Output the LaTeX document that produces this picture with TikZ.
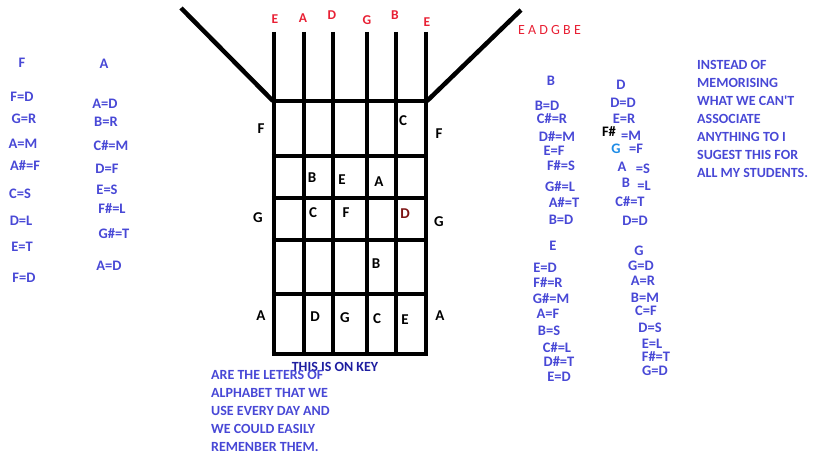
\documentclass[tikz,border=0pt]{standalone}
\usepackage{fontspec}
\setmainfont{Carlito}
\usepackage{tikz}
\usetikzlibrary{positioning}
\definecolor{noteblue}{RGB}{72,72,214}
\definecolor{keyblue}{RGB}{30,30,160}
\definecolor{stringred}{RGB}{232,32,52}
\definecolor{lightblue}{RGB}{30,140,230}
\definecolor{darkred}{RGB}{125,20,20}
\tikzstyle{neck} = [line width=4.5pt]
\tikzstyle{note} = [text=noteblue, font=\bfseries\fontsize{14.5}{16}\selectfont]
\tikzstyle{fretnote} = [text=black, font=\bfseries\fontsize{15}{17}\selectfont]
\tikzstyle{stringname} = [text=stringred, font=\bfseries\fontsize{13.5}{15}\selectfont]
\tikzstyle{para} = [text=noteblue, anchor=north west, align=left, font=\bfseries\fontsize{14}{18}\selectfont]

\begin{document}
\begin{tikzpicture}[x=1pt, y=-1pt, every node/.style={inner sep=0pt}]
  \useasboundingbox (0,0) rectangle (819,460);

  % Headstock
  \coordinate (hl) at (181,8);
  \coordinate (hr) at (521,10);
  \coordinate (nl) at (273,101);
  \coordinate (nr) at (427,101);
  \draw[neck] (hl) -- (nl);
  \draw[neck] (hr) -- (nr);

  % Strings
  \coordinate (s1t) at (274,32);  \coordinate (s1b) at (274,356.25);
  \coordinate (s2t) at (304,32);  \coordinate (s2b) at (304,356.25);
  \coordinate (s3t) at (333,32);  \coordinate (s3b) at (333,356.25);
  \coordinate (s4t) at (367,32);  \coordinate (s4b) at (367,356.25);
  \coordinate (s5t) at (396,32);  \coordinate (s5b) at (396,356.25);
  \coordinate (s6t) at (426,32);  \coordinate (s6b) at (426,356.25);
  \draw[neck] (s1t) -- (s1b);
  \draw[neck] (s2t) -- (s2b);
  \draw[neck] (s3t) -- (s3b);
  \draw[neck] (s4t) -- (s4b);
  \draw[neck] (s5t) -- (s5b);
  \draw[neck] (s6t) -- (s6b);

  % Frets
  \coordinate (f0l) at (271.75,101); \coordinate (f0r) at (428.25,101);
  \coordinate (f1l) at (271.75,156); \coordinate (f1r) at (428.25,156);
  \coordinate (f2l) at (271.75,198); \coordinate (f2r) at (428.25,198);
  \coordinate (f3l) at (271.75,240); \coordinate (f3r) at (428.25,240);
  \coordinate (f4l) at (271.75,294); \coordinate (f4r) at (428.25,294);
  \coordinate (f5l) at (271.75,354); \coordinate (f5r) at (428.25,354);
  \draw[neck] (f0l) -- (f0r);
  \draw[neck] (f1l) -- (f1r);
  \draw[neck] (f2l) -- (f2r);
  \draw[neck] (f3l) -- (f3r);
  \draw[neck] (f4l) -- (f4r);
  \draw[neck] (f5l) -- (f5r);

  % String names
  \node[stringname] (nE1) at (275,19) {E};
  \node[stringname] (nA) at (303,18) {A};
  \node[stringname] (nD) at (332,15) {D};
  \node[stringname] (nG) at (367,20) {G};
  \node[stringname] (nB) at (395,15) {B};
  \node[stringname] (nE2) at (427,22) {E};
  \node[stringname, font=\fontsize{14}{16}\selectfont, anchor=west] (tuning) at (518,30) {E A D G B E};

  % Notes on the neck
  \node[fretnote] (lF) at (261,129) {F};
  \node[fretnote] (rF) at (439,134) {F};
  \node[fretnote] (lG) at (258,218) {G};
  \node[fretnote] (rG) at (439,222) {G};
  \node[fretnote] (lA) at (261,316) {A};
  \node[fretnote] (rA) at (440,316) {A};
  \node[fretnote] (c1) at (403,121) {C};
  \node[fretnote] (b2) at (312,178) {B};
  \node[fretnote] (e2) at (342,180) {E};
  \node[fretnote] (a2) at (379,182) {A};
  \node[fretnote] (c3) at (313,213) {C};
  \node[fretnote] (f3) at (346,213) {F};
  \node[fretnote, text=darkred] (d3) at (405,214) {D};
  \node[fretnote] (b4) at (376,264) {B};
  \node[fretnote] (d5) at (315,317) {D};
  \node[fretnote] (g5) at (345,318) {G};
  \node[fretnote] (c5) at (377,319) {C};
  \node[fretnote] (e5) at (405,320) {E};
  \node[note, text=keyblue, font=\bfseries\fontsize{14}{16}\selectfont] (key) at (335,367) {THIS IS ON KEY};

  % F column
  \node[note] (fhead) at (22,63) {F};
  \node[note] (f1) at (22,97) {F=D};
  \node[note] (f2) at (24,119) {G=R};
  \node[note] (f3) at (23,144) {A=M};
  \node[note] (f4) at (25,166) {A\#=F};
  \node[note] (f5) at (20,194) {C=S};
  \node[note] (f6) at (21,221) {D=L};
  \node[note] (f7) at (22,247) {E=T};
  \node[note] (f8) at (24,278) {F=D};

  % A column
  \node[note] (ahead) at (104,64) {A};
  \node[note] (a1) at (105,104) {A=D};
  \node[note] (a2) at (106,122) {B=R};
  \node[note] (a3) at (111,146) {C\#=M};
  \node[note] (a4) at (107,169) {D=F};
  \node[note] (a5) at (107,190) {E=S};
  \node[note] (a6) at (112,209) {F\#=L};
  \node[note] (a7) at (114,234) {G\#=T};
  \node[note] (a8) at (109,266) {A=D};

  % B column
  \node[note] (bhead) at (551,81) {B};
  \node[note] (b1) at (547,106) {B=D};
  \node[note] (b2) at (552,119) {C\#=R};
  \node[note] (b3) at (557,137) {D\#=M};
  \node[note] (b4) at (554,151) {E=F};
  \node[note] (b5) at (561,166) {F\#=S};
  \node[note] (b6) at (560,187) {G\#=L};
  \node[note] (b7) at (564,203) {A\#=T};
  \node[note] (b8) at (561,220) {B=D};

  % D column
  \node[note] (dhead) at (621,85) {D};
  \node[note] (d1) at (623,103) {D=D};
  \node[note] (d2) at (624,119) {E=R};
  \node[fretnote, font=\bfseries\fontsize{14.5}{16}\selectfont] (d3n) at (609,132) {F\#};
  \node[note] (d3) at (631,136) {=M};
  \node[note, text=lightblue] (d4n) at (616,149) {G};
  \node[note] (d4) at (636,149) {=F};
  \node[note] (d5n) at (622,167) {A};
  \node[note] (d5) at (643,169) {=S};
  \node[note] (d6n) at (626,183) {B};
  \node[note] (d6) at (644,186) {=L};
  \node[note] (d7) at (630,202) {C\#=T};
  \node[note] (d8) at (635,221) {D=D};

  % E column
  \node[note] (ehead) at (553,246) {E};
  \node[note] (e1) at (545,268) {E=D};
  \node[note] (e2) at (548,283) {F\#=R};
  \node[note] (e3) at (551,299) {G\#=M};
  \node[note] (e4) at (548,314) {A=F};
  \node[note] (e5) at (549,331) {B=S};
  \node[note] (e6) at (557,348) {C\#=L};
  \node[note] (e7) at (559,362) {D\#=T};
  \node[note] (e8) at (559,377) {E=D};

  % G column
  \node[note] (ghead) at (639,251) {G};
  \node[note] (g1) at (641,266) {G=D};
  \node[note] (g2) at (643,281) {A=R};
  \node[note] (g3) at (645,298) {B=M};
  \node[note] (g4) at (646,311) {C=F};
  \node[note] (g5) at (650,328) {D=S};
  \node[note] (g6) at (652,344) {E=L};
  \node[note] (g7) at (656,357) {F\#=T};
  \node[note] (g8) at (655,371) {G=D};

  % Comments
  \node[para] (advice) at (697,60.5) {INSTEAD OF\\MEMORISING\\WHAT WE CAN\textquotesingle T\\ASSOCIATE\\ANYTHING TO I\\SUGEST THIS FOR\\ALL MY STUDENTS.};
  \node[para] (letters) at (211,370.5) {ARE THE LETERS OF\\ALPHABET THAT WE\\USE EVERY DAY AND\\WE COULD EASILY\\REMENBER THEM.};
\end{tikzpicture}
\end{document}
